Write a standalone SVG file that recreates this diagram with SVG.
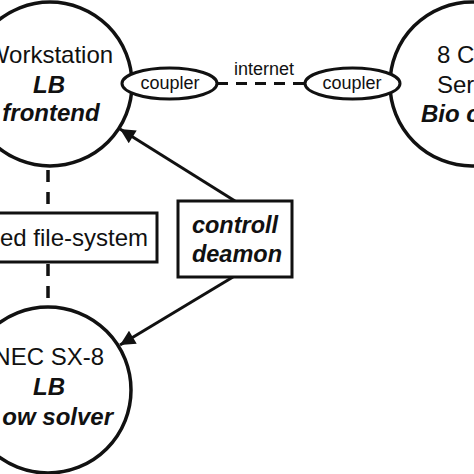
<svg xmlns="http://www.w3.org/2000/svg" width="474" height="474" viewBox="0 0 474 474">
<style>
.node{fill:#fff;stroke:#111;stroke-width:3.5}
.box{fill:#fff;stroke:#111;stroke-width:3}
.cpl{fill:#fff;stroke:#111;stroke-width:3}
.t{font-family:"Liberation Sans",Arial,sans-serif;font-size:24px;fill:#111}
.bi{font-weight:bold;font-style:italic}
.d{font-size:23.5px}
.s{font-family:"Liberation Sans",Arial,sans-serif;font-size:18px;fill:#111}
.dash{stroke:#111;stroke-width:3.5;fill:none;stroke-dasharray:12 10}
.dash2{stroke:#111;stroke-width:3;fill:none;stroke-dasharray:11 8}
.arr{stroke:#111;stroke-width:3;fill:none}
</style>
<defs>
<marker id="ah" viewBox="0 0 10 10" refX="10" refY="5" markerWidth="6" markerHeight="5" markerUnits="strokeWidth" orient="auto">
<path d="M0,0 L10,5 L0,10 z" fill="#111"/>
</marker>
</defs>
<rect width="474" height="474" fill="#fff"/>
<g id="connectors">
<line class="dash" x1="48" y1="170" x2="48" y2="212"/>
<line class="dash" x1="48" y1="264" x2="48" y2="306"/>
<line class="dash2" x1="217" y1="83.5" x2="305" y2="83.5"/>
<line class="arr" x1="235" y1="201" x2="120" y2="129" marker-end="url(#ah)"/>
<line class="arr" x1="233" y1="277" x2="120" y2="345" marker-end="url(#ah)"/>
</g>
<g id="workstation">
<circle class="node" cx="50" cy="84" r="82"/>
<text class="t" x="50" y="63" text-anchor="middle">Workstation</text>
<text class="t bi" x="49" y="93" text-anchor="middle">LB</text>
<text class="t bi" x="51" y="121" text-anchor="middle">frontend</text>
</g>
<g id="coupler-left">
<ellipse class="cpl" cx="169.5" cy="83.5" rx="47.5" ry="15.5"/>
<text class="s" x="170" y="89" text-anchor="middle">coupler</text>
</g>
<text class="s" x="264" y="75" text-anchor="middle">internet</text>
<g id="server">
<circle class="node" cx="472" cy="84" r="82"/>
<text class="t" x="437" y="63">8 C</text>
<text class="t" x="437" y="93">Ser</text>
<text class="t bi" x="421" y="122">Bio c</text>
</g>
<g id="coupler-right">
<ellipse class="cpl" cx="352.5" cy="83.5" rx="47.5" ry="15.5"/>
<text class="s" x="352" y="89" text-anchor="middle">coupler</text>
</g>
<g id="filesystem">
<rect class="box" x="-10" y="213" width="167" height="49"/>
<text class="t" x="148" y="246" text-anchor="end">ed file-system</text>
</g>
<g id="daemon">
<rect class="box" x="178" y="201" width="114" height="76"/>
<text class="t bi d" x="235" y="233" text-anchor="middle">controll</text>
<text class="t bi d" x="237" y="262" text-anchor="middle">deamon</text>
</g>
<g id="nec">
<circle class="node" cx="48" cy="390" r="83"/>
<text class="t" x="104" y="365" text-anchor="end">NEC SX-8</text>
<text class="t bi" x="49" y="395" text-anchor="middle">LB</text>
<text class="t bi" x="113" y="425" text-anchor="end">ow solver</text>
</g>
</svg>
